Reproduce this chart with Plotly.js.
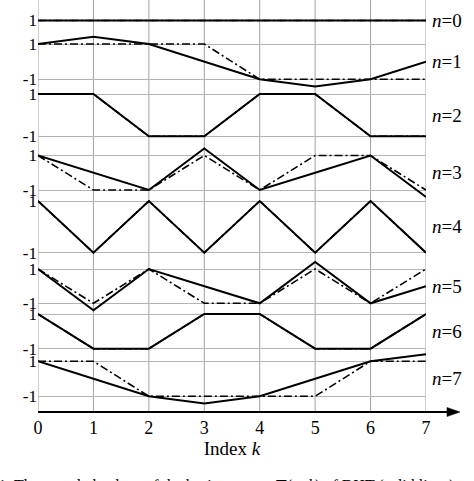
<!DOCTYPE html>
<html><head><meta charset="utf-8">
<script src="https://cdn.plot.ly/plotly-3.0.1.min.js"></script>
<style>html,body{margin:0;padding:0;background:#fff}#chart{width:474px;height:481px}</style>
</head><body><div id="chart"></div>
<script>
// ---- data ----
const k = [0, 1, 2, 3, 4, 5, 6, 7];
const nValues = [0, 1, 2, 3, 4, 5, 6, 7];
// solid lines (DHT basis vectors)
const dht = [
  [1, 1, 1, 1, 1, 1, 1, 1],
  [1, 1.41, 1, 0, -1, -1.41, -1, 0],
  [1, 1, -1, -1, 1, 1, -1, -1],
  [1, 0, -1, 1.41, -1, 0, 1, -1.41],
  [1, -1, 1, -1, 1, -1, 1, -1],
  [1, -1.41, 1, 0, -1, 1.41, -1, 0],
  [1, -1, -1, 1, 1, -1, -1, 1],
  [1, 0, -1, -1.41, -1, 0, 1, 1.41]
];
// dash-dot lines
const dashed = [
  [1, 1, 1, 1, 1, 1, 1, 1],
  [1, 1, 1, 1, -1, -1, -1, -1],
  [1, 1, -1, -1, 1, 1, -1, -1],
  [1, -1, -1, 1, -1, 1, 1, -1],
  [1, -1, 1, -1, 1, -1, 1, -1],
  [1, -1, 1, -1, -1, 1, -1, 1],
  [1, -1, -1, 1, 1, -1, -1, 1],
  [1, 1, -1, -1, -1, -1, 1, 1]
];
const yTickVals = [-1, 1];
const yTickText = ['-1', '1'];
const xTickText = ['0', '1', '2', '3', '4', '5', '6', '7'];

// ---- layout geometry (pixels of +1 / -1 for each row) ----
const W = 474, Hfull = 481;
const mL = 38, mR = 48, mT = 0, mB = 69;
const H = Hfull - mT - mB;         // plot height
const PW = W - mL - mR;            // plot width
const pxPlus = [20.5, 44, 94, 155.5, 201, 269, 314, 361.3];
const pxMinus = [55.5, 79.3, 136.3, 190, 252.7, 303.3, 348.7, 396.3];
const R = 1.6;

const serif = 'Liberation Serif, Times New Roman, serif';
const traces = [];
const layout = {
  width: W, height: Hfull,
  margin: {l: mL, r: mR, t: mT, b: mB, pad: 0},
  paper_bgcolor: '#fff', plot_bgcolor: 'rgba(0,0,0,0)',
  showlegend: false,
  font: {family: serif, size: 16, color: '#000'},
  xaxis: {
    range: [0, 7], tickvals: k, ticktext: xTickText, ticks: '',
    anchor: 'free', position: 0, ticklabelstandoff: 3,
    showgrid: false, zeroline: false, showline: false, fixedrange: true,
    tickfont: {family: serif, size: 18, color: '#000'},
    title: {text: 'Index <i>k</i>', font: {family: serif, size: 19, color: '#000'}, standoff: 3}
  },
  shapes: [], annotations: []
};

for (let i = 0; i < dht.length; i++) {
  const suf = i === 0 ? '' : String(i + 1);
  const ppu = (pxMinus[i] - pxPlus[i]) / 2;
  const topPx = pxPlus[i] - (R - 1) * ppu;
  const botPx = pxMinus[i] + (R - 1) * ppu;
  const dom = [Math.max(0, (H - botPx) / H), Math.min(1, (H - topPx) / H)];
  layout['yaxis' + suf] = {
    domain: dom, range: [-R, R], anchor: 'x',
    tickvals: i === 0 ? [1] : yTickVals, ticktext: i === 0 ? ['1'] : yTickText,
    ticks: '', showline: false, zeroline: false, fixedrange: true,
    showgrid: true, gridcolor: '#b4b4b4', gridwidth: 1,
    tickfont: {family: serif, size: 17, color: '#000'}
  };
  traces.push({
    x: k, y: dashed[i], xaxis: 'x', yaxis: 'y' + suf, mode: 'lines',
    line: {color: '#000', width: 1.6, dash: '8px,3px,2px,3px'}, hoverinfo: 'skip'
  });
  traces.push({
    x: k, y: dht[i], xaxis: 'x', yaxis: 'y' + suf, mode: 'lines',
    line: {color: '#000', width: 2}, hoverinfo: 'skip'
  });
  layout.annotations.push({
    xref: 'paper', x: 1, xanchor: 'left', xshift: 4,
    yref: 'y' + suf, y: i === 0 ? 1 : 0, yanchor: 'middle',
    text: '<i>n</i>=' + nValues[i], showarrow: false,
    font: {family: serif, size: 19, color: '#000'}
  });
}

// vertical grid lines
k.forEach(v => layout.shapes.push({
  type: 'line', xref: 'x', yref: 'paper', x0: v, x1: v, y0: 0, y1: 1,
  line: {color: '#a0a0a0', width: 1}, layer: 'below'
}));
// x-axis line with arrow
const tipPx = 460, basePx = 447, halfH = 4.5;
layout.shapes.push({
  type: 'line', xref: 'paper', yref: 'paper', x0: 0, x1: (basePx + 2 - mL) / PW, y0: 0, y1: 0,
  line: {color: '#000', width: 2.2}
});
const tipX = (tipPx - mL) / PW, baseX = (basePx - mL) / PW, hh = halfH / H;
layout.shapes.push({
  type: 'path', xref: 'paper', yref: 'paper',
  path: `M ${baseX},${-hh} L ${tipX},0 L ${baseX},${hh} Z`,
  fillcolor: '#000', line: {color: '#000', width: 0.5}
});
// partially visible caption (cut by the bottom edge, as in the reference)
const capY = (H - 475) / H;
layout.annotations.push({
  xref: 'paper', yref: 'paper', x: (270 - mL) / PW, y: capY, xanchor: 'right', yanchor: 'top',
  text: 'Fig. 1. The sampled values of the basis vectors', showarrow: false,
  font: {family: serif, size: 16, color: '#000'}
});
layout.annotations.push({
  xref: 'paper', yref: 'paper', x: (274 - mL) / PW, y: capY, xanchor: 'left', yanchor: 'top',
  text: '<b>T</b>(<i>n</i>, <i>k</i>) of DHT (solid lines) and', showarrow: false,
  font: {family: serif, size: 16, color: '#000'}
});

Plotly.newPlot('chart', traces, layout, {staticPlot: true, displayModeBar: false});
</script>
</body></html>
